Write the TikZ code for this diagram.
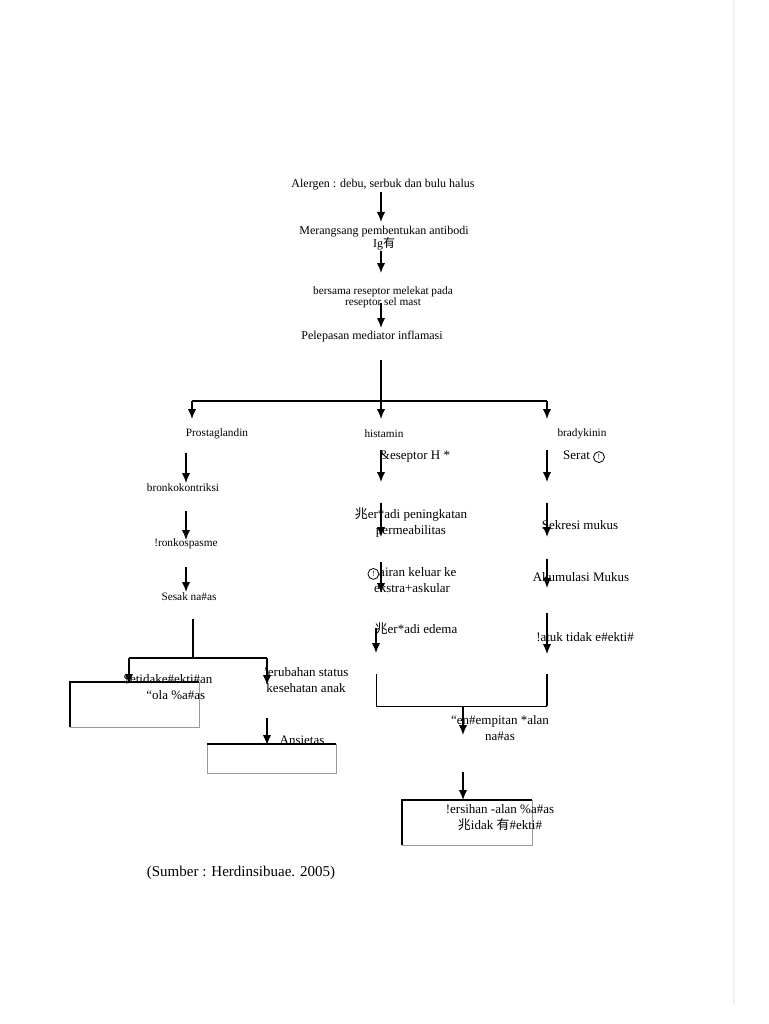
\documentclass[tikz,border=0pt]{standalone}
\usepackage{fontspec}
\setmainfont{Liberation Serif}
\newfontfamily\cjk{Noto Sans CJK SC}
\usetikzlibrary{positioning,arrows.meta}

\newcommand{\ringmark}{\tikz[baseline=(rm.base)]\node[circle,draw,line width=0.8pt,inner sep=1.8pt,font=\fontsize{8}{8}\selectfont] (rm) {!};}

\begin{document}
\begin{tikzpicture}[x=1pt,y=-1pt,>={Latex[length=10pt,width=8.5pt]},
    txt/.style={inner sep=0pt,align=center,yshift=-2pt},
    sm/.style={txt,font=\fontsize{11.3}{11}\selectfont},
    md/.style={txt,font=\fontsize{12}{12}\selectfont},
    lg/.style={txt,font=\fontsize{13}{16}\selectfont},
    flow/.style={->,line width=1.4pt},
    link/.style={line width=1.4pt},
    shbox/.style={draw=gray!80,line width=0.8pt}]
    \useasboundingbox (0,0) rectangle (768,1024);
    \draw[gray!12,line width=1.5pt] (734,0) -- (734,1005);

    % main column
    \node[md] (alergen) at (383,183) {Alergen : debu, serbuk dan bulu halus};
    \node[md] (antibodi) at (384,236) {Merangsang pembentukan antibodi\\Ig{\cjk 有}};
    \node[sm] (mast) at (383,295) {bersama reseptor melekat pada\\reseptor sel mast};
    \node[md] (mediator) at (372,335) {Pelepasan mediator inflamasi};
    \coordinate (a1) at (381,192); \coordinate (a2) at (381,222);
    \coordinate (a3) at (381,251); \coordinate (a4) at (381,273);
    \coordinate (a5) at (381,303); \coordinate (a6) at (381,328);
    \draw[flow] (a1) -- (a2);
    \draw[flow] (a3) -- (a4);
    \draw[flow] (a5) -- (a6);

    % branching
    \coordinate (split) at (381,360); \coordinate (mid) at (381,401);
    \coordinate (left) at (192,401); \coordinate (right) at (547,401);
    \coordinate (leftEnd) at (192,419); \coordinate (midEnd) at (381,419);
    \coordinate (rightEnd) at (547,419);
    \draw[flow] (split) -- (midEnd);
    \draw[link] (left) -- (right);
    \draw[flow] (left) -- (leftEnd);
    \draw[flow] (right) -- (rightEnd);
    \node[sm] (prosta) at (217,432) {Prostaglandin};
    \node[sm] (histamin) at (384,432) {histamin};
    \node[sm] (brady) at (582,432) {bradykinin};

    % prostaglandin column
    \node[sm] (bronko) at (183,486) {bronkokontriksi};
    \node[sm] (spasme) at (186,542) {!ronkospasme};
    \node[sm] (sesak) at (189,595) {Sesak na\#as};
    \coordinate (p1) at (186,453); \coordinate (p2) at (186,483);
    \coordinate (p3) at (186,511); \coordinate (p4) at (186,540);
    \coordinate (p5) at (186,567); \coordinate (p6) at (186,592);
    \draw[flow] (p1) -- (p2);
    \draw[flow] (p3) -- (p4);
    \draw[flow] (p5) -- (p6);
    \coordinate (q0) at (193,619); \coordinate (q1) at (193,658);
    \coordinate (qL) at (129,658); \coordinate (qR) at (267,658);
    \coordinate (qLe) at (129,684); \coordinate (qRe) at (267,685);
    \draw[link] (q0) -- (q1);
    \draw[link] (qL) -- (qR);
    \draw[flow] (qL) -- (qLe);
    \draw[flow] (qR) -- (qRe);
    \draw[shbox] (70,682) rectangle (199,727);
    \draw[line width=2.2pt] (70,727) -- (70,682) -- (199,682);
    \node[lg] (pola) at (168,685) {\$etidake\#ekti\#an\\\hspace*{1.2em}“ola \%a\#as};
    \node[lg] (status) at (306,678) {'erubahan status\\kesehatan anak};
    \coordinate (s1) at (267,718); \coordinate (s2) at (267,745);
    \draw[flow] (s1) -- (s2);
    \draw[shbox] (207,744) rectangle (336,773);
    \draw[line width=1.8pt] (207,744) -- (336,744);
    \node[lg] (ansietas) at (302,738) {Ansietas};

    % histamin column
    \node[lg] (hreseptor) at (415,455) {\&eseptor H *};
    \node[lg] (permea) at (411,520) {{\cjk 兆}er*adi peningkatan\\permeabilitas};
    \node[lg] (cairan) at (412,578) {\ringmark airan keluar ke\\ekstra+askular};
    \node[lg] (edema) at (416,627) {{\cjk 兆}er*adi edema};
    \coordinate (h1) at (381,450); \coordinate (h2) at (381,482);
    \coordinate (h3) at (381,503); \coordinate (h4) at (381,537);
    \coordinate (h5) at (381,562); \coordinate (h6) at (381,593);
    \coordinate (h7) at (376,628); \coordinate (h8) at (376,653);
    \draw[flow] (h1) -- (h2);
    \draw[flow] (h3) -- (h4);
    \draw[flow] (h5) -- (h6);
    \draw[flow] (h7) -- (h8);

    % bradykinin column
    \node[lg] (serat) at (584,455) {Serat \ringmark};
    \node[lg] (mukus) at (580,523) {Sekresi mukus};
    \node[lg] (akumulasi) at (581,575) {Akumulasi Mukus};
    \node[lg] (batuk) at (585,635) {!atuk tidak e\#ekti\#};
    \coordinate (b1) at (547,450); \coordinate (b2) at (547,482);
    \coordinate (b3) at (547,503); \coordinate (b4) at (547,537);
    \coordinate (b5) at (547,559); \coordinate (b6) at (547,588);
    \coordinate (b7) at (547,613); \coordinate (b8) at (547,654);
    \draw[flow] (b1) -- (b2);
    \draw[flow] (b3) -- (b4);
    \draw[flow] (b5) -- (b6);
    \draw[flow] (b7) -- (b8);

    % joining bracket
    \coordinate (j1) at (376,674); \coordinate (j2) at (376,706);
    \coordinate (j3) at (547,706); \coordinate (j4) at (547,674);
    \draw[line width=1pt] (j1) -- (j2) -- (j3);
    \draw[line width=2pt] (j3) -- (j4);
    \coordinate (jm) at (463,706); \coordinate (jmEnd) at (463,735);
    \draw[flow] (jm) -- (jmEnd);
    \node[lg] (sempit) at (500,726) {“en\#empitan *alan\\na\#as};
    \coordinate (k1) at (463,772); \coordinate (k2) at (463,800);
    \draw[flow] (k1) -- (k2);
    \draw[shbox] (402,800) rectangle (532,845);
    \draw[line width=2.2pt] (402,845) -- (402,800) -- (532,800);
    \node[lg] (bersihan) at (500,816) {!ersihan -alan \%a\#as\\{\cjk 兆}idak {\cjk 有}\#ekti\#};

    \node[txt,font=\fontsize{15}{15}\selectfont] (sumber) at (241,871) {(Sumber : Herdinsibuae. 2005)};
\end{tikzpicture}
\end{document}
